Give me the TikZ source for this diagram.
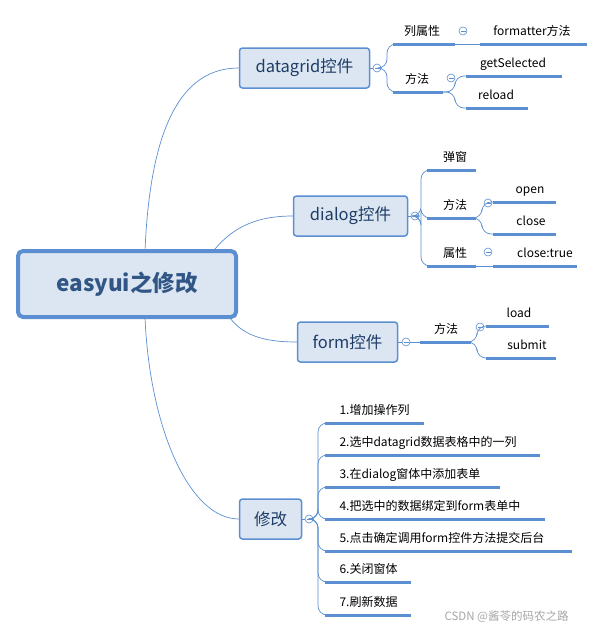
\documentclass[tikz,border=0pt]{standalone}
\usepackage{fontspec}
\setmainfont{Noto Sans CJK SC}
\definecolor{lb}{HTML}{5B8FD1}
\definecolor{fillb}{HTML}{DCE6F2}
\definecolor{tx}{HTML}{1F3D66}
\begin{document}
\begin{tikzpicture}[x=1pt,y=-1pt,
  topic/.style={draw=lb,line width=1.5pt,fill=fillb,rounded corners=3pt,font=\fontsize{16.5}{18}\selectfont,text=tx,inner sep=0pt},
  col/.style={circle,draw=lb,line width=0.6pt,fill=white,minimum size=8pt,inner sep=0pt},
  ul/.style={draw=lb,line width=3pt},
  br/.style={draw=lb,line width=0.7pt,rounded corners=9pt},
  lf/.style={font=\fontsize{12}{13}\selectfont,anchor=base,text=black}]
\useasboundingbox (0,0) rectangle (605,632);
% root
\node[draw=lb,line width=4pt,fill=fillb,rounded corners=5pt,minimum width=218pt,minimum height=66pt,font=\fontsize{22.5}{24}\selectfont\bfseries,text=tx!70!lb] (root) at (127,284) {easyui之修改};
\node[topic,minimum width=130pt,minimum height=40pt] (dg) at (304.5,68) {datagrid控件};
\node[topic,minimum width=114pt,minimum height=40pt] (dl) at (350.5,216) {dialog控件};
\node[topic,minimum width=100pt,minimum height=40pt] (fm) at (347.5,342) {form控件};
\node[topic,minimum width=62pt,minimum height=40pt] (xg) at (270.5,519) {修改};
% main curves
\draw[lb,line width=0.7pt] (145,251) .. controls (150,130) and (180,68) .. (dg.west);
\draw[lb,line width=0.7pt] (215,249) .. controls (235,225) and (260,216) .. (dl.west);
\draw[lb,line width=0.7pt] (230,318) .. controls (245,338) and (270,342) .. (fm.west);
\draw[lb,line width=0.7pt] (145,318) .. controls (150,430) and (190,519) .. (xg.west);
% collapse circles
\node[col] (c1) at (377,68) {}; \draw[lb,line width=0.6pt] (374.5,68)--(379.5,68);
\node[col] (c2) at (415,216) {}; \draw[lb,line width=0.6pt] (412.5,216)--(417.5,216);
\node[col] (c3) at (406,342) {}; \draw[lb,line width=0.6pt] (403.5,342)--(408.5,342);
\node[col] (c4) at (309,519) {}; \draw[lb,line width=0.6pt] (306.5,519)--(311.5,519);
\draw[lb,line width=0.6pt] (dg.east)--(c1.west);
\draw[lb,line width=0.6pt] (dl.east)--(c2.west);
\draw[lb,line width=0.6pt] (fm.east)--(c3.west);
\draw[lb,line width=0.6pt] (xg.east)--(c4.west);
% datagrid children
\coordinate (a1) at (393,44); \coordinate (a2) at (393,92);
\draw[br] (c1.east) -| (387,44) -- (a1);
\draw[br] (c1.east) -| (387,92) -- (a2);
\draw[ul] (a1) -- (455,44); \node[lf] at (422,35) {列属性};
\draw[ul] (a2) -- (443,92); \node[lf] at (417,83) {方法};
\node[col] (c5) at (463,31) {}; \draw[lb,line width=0.6pt] (460.5,31)--(465.5,31);
\draw[lb,line width=0.7pt] (455,44) -- (480,44);
\draw[ul] (480,44) -- (587,44); \node[lf] at (532,35) {formatter方法};
\node[col] (c6) at (451,78) {}; \draw[lb,line width=0.6pt] (448.5,78)--(453.5,78);
\coordinate (a3) at (466,76); \coordinate (a4) at (466,108);
\draw[br] (443,92) -- (455,92) |- (a3);
\draw[br] (443,92) -- (455,92) |- (a4);
\draw[ul] (a3) -- (562,76); \node[lf] at (513,67) {getSelected};
\draw[ul] (a4) -- (528,108); \node[lf] at (496,99) {reload};
% dialog children
\coordinate (b1) at (427,170); \coordinate (b2) at (427,218); \coordinate (b3) at (427,266);
\draw[br] (c2.east) -- (421,216) |- (b1);
\draw[br] (c2.east) -- (421,216) |- (b2);
\draw[br] (c2.east) -- (421,216) |- (b3);
\draw[ul] (b1) -- (476,170); \node[lf] at (455,161) {弹窗};
\draw[ul] (b2) -- (476,218); \node[lf] at (455,209) {方法};
\draw[ul] (b3) -- (476,266); \node[lf] at (455,257) {属性};
\node[col] (c7) at (488,203) {}; \draw[lb,line width=0.6pt] (485.5,203)--(490.5,203);
\node[col] (c8) at (488,252) {}; \draw[lb,line width=0.6pt] (485.5,252)--(490.5,252);
\coordinate (b4) at (493,202); \coordinate (b5) at (493,234);
\draw[br] (476,218) -- (482,218) |- (b4);
\draw[br] (476,218) -- (482,218) |- (b5);
\draw[ul] (b4) -- (556,202); \node[lf] at (530,193) {open};
\draw[ul] (b5) -- (556,234); \node[lf] at (531,225) {close};
\draw[lb,line width=0.7pt] (476,266) -- (493,266);
\draw[ul] (493,266) -- (577,266); \node[lf] at (545,257) {close:true};
% form children
\coordinate (f1) at (420,342);
\draw[lb,line width=0.7pt] (c3.east) -- (f1);
\draw[ul] (f1) -- (471,342); \node[lf] at (446,333) {方法};
\node[col] (c9) at (480,327) {}; \draw[lb,line width=0.6pt] (477.5,327)--(482.5,327);
\coordinate (f2) at (486,326); \coordinate (f3) at (486,358);
\draw[br] (471,342) -- (477,342) |- (f2);
\draw[br] (471,342) -- (477,342) |- (f3);
\draw[ul] (f2) -- (549,326); \node[lf] at (519,317) {load};
\draw[ul] (f3) -- (556,358); \node[lf] at (527,349) {submit};
% 修改 children
\foreach \y/\e/\t in {423/424/1.增加操作列, 455/540/2.选中datagrid数据表格中的一列, 487/500/3.在dialog窗体中添加表单, 519/545/4.把选中的数据绑定到form表单中, 551/572/5.点击确定调用form控件方法提交后台, 582/411/6.关闭窗体, 615/411/7.刷新数据}{
  \draw[br] (c4.east) -- (318,519) |- (325,\y);
  \draw[ul] (325,\y) -- (\e,\y);
  \node[lf,anchor=base west] at (336,\y-9) {\t};
}
\node[font=\fontsize{11.5}{12}\selectfont,text=gray!70,anchor=base west] (wm) at (441,620) {CSDN @酱苓的码农之路};
\end{tikzpicture}
\end{document}
